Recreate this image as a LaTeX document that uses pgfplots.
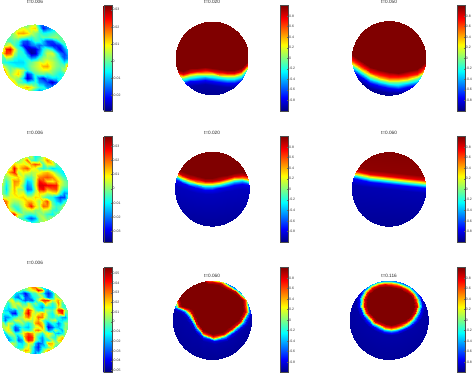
\documentclass[border=0pt]{standalone}
\usepackage{fontspec}
\setmainfont{Liberation Sans}
\usepackage{pgfplots}
\pgfplotsset{compat=1.18}
\newcommand\ttl{\fontsize{4.7}{5}\selectfont}
\newcommand\tcb{\fontsize{3.5}{4}\selectfont}
\pgfplotsset{
  disc/.style={hide axis, scale only axis, width=#1, height=#1, anchor=center,
    xmin=-1,xmax=1,ymin=-1,ymax=1, view={0}{90}, colormap/jet, colorbar},
  cb/.style n args={4}{colorbar style={anchor=north west,
    at={(parent axis.center)}, xshift=#1, yshift=#2, width=8pt, height=#3, ytick={#4},
    scaled y ticks=false, ytick pos=right, yticklabel pos=right, major tick length=1pt, tick style={black!60,line width=0.15pt},
    axis line style={black!70,line width=0.3pt},
    yticklabel style={font=\tcb, text=black!80, inner sep=0.6pt, /pgf/number format/fixed, /pgf/number format/precision=2, /pgf/number format/assume math mode=true}}},
  table/grid17/.style={x expr={-1+2*mod(\coordindex,17)/16}, y expr={1-2*floor(\coordindex/17)/16}, z expr={\thisrowno{0}/1000}, header=false, row sep=crcr},
  table/grid21/.style={x expr={-1+2*mod(\coordindex,21)/20}, y expr={1-2*floor(\coordindex/21)/20}, z expr={\thisrowno{0}/1000}, header=false, row sep=crcr},
  table/band/.style={header=false, row sep=crcr, x index=0, y index=1, z index=2},
}
\begin{document}
\begin{tikzpicture}[x=1pt,y=1pt]
\path[use as bounding box] (0,0) rectangle (474,376);
\node[font=\ttl,text=black!85] at (35,374) {t=0.006};
\node[font=\ttl,text=black!85] at (212,374) {t=0.020};
\node[font=\ttl,text=black!85] at (389,374) {t=0.050};
\node[font=\ttl,text=black!85] at (35,243) {t=0.006};
\node[font=\ttl,text=black!85] at (212,243) {t=0.020};
\node[font=\ttl,text=black!85] at (389,243) {t=0.060};
\node[font=\ttl,text=black!85] at (35,113) {t=0.006};
\node[font=\ttl,text=black!85] at (212,100.3) {t=0.060};
\node[font=\ttl,text=black!85] at (389,100.3) {t=0.116};

% row 1, panel 1
\begin{axis}[disc=66.6pt, at={(35pt,318.5pt)}, point meta min=-0.029, point meta max=0.0325,
  cb={60.2pt}{52pt}{105.2pt}{-0.02,-0.01,0,0.01,0.02,0.03}]
\clip (axis cs:0,0,0) circle[radius=33.3pt];
\addplot3[surf,shader=interp,mesh/cols=17] table[grid17] {
0\\0\\0\\0\\0\\0\\0\\5\\5\\-10\\-15\\-15\\0\\0\\0\\0\\0\\
0\\0\\0\\0\\5\\8\\5\\10\\12\\-5\\-20\\-15\\-10\\0\\0\\0\\0\\
0\\0\\0\\5\\14\\15\\12\\6\\2\\-2\\-5\\-4\\-2\\0\\0\\0\\0\\
0\\0\\0\\3\\6\\3\\0\\-3\\0\\-3\\0\\-1\\2\\3\\0\\0\\0\\
0\\0\\-2\\0\\-3\\-16\\-18\\-10\\-3\\-4\\-10\\-18\\-18\\-10\\-2\\0\\0\\
0\\5\\10\\-1\\-6\\-20\\-20\\-15\\-12\\-15\\-12\\-16\\-20\\-20\\-18\\-5\\-2\\
0\\24\\26\\10\\-2\\-8\\-24\\-26\\-24\\-16\\-5\\0\\-5\\-16\\-22\\-14\\-5\\
10\\22\\20\\5\\-3\\-4\\-15\\-27\\-25\\-12\\-2\\6\\7\\-3\\-14\\-18\\-8\\
2\\5\\3\\-3\\-6\\-5\\-5\\-12\\-10\\-2\\3\\5\\3\\0\\-6\\-16\\-12\\
-3\\-5\\-7\\-8\\-8\\-8\\-3\\0\\4\\8\\6\\10\\6\\2\\-2\\-8\\-2\\
10\\2\\-2\\-4\\-6\\-6\\-3\\2\\5\\8\\14\\15\\6\\2\\0\\0\\18\\
16\\8\\0\\5\\10\\4\\-5\\0\\3\\6\\8\\8\\3\\0\\-2\\5\\14\\
8\\12\\3\\8\\12\\0\\-20\\-14\\-2\\0\\0\\-3\\0\\-3\\-6\\-3\\3\\
0\\14\\8\\5\\3\\-8\\-24\\-18\\-4\\-16\\-20\\-12\\-8\\-8\\-5\\-2\\0\\
0\\0\\15\\10\\0\\-3\\-8\\-5\\-3\\-12\\-14\\-18\\-25\\-18\\-4\\0\\0\\
0\\0\\0\\8\\8\\10\\14\\10\\3\\-3\\-4\\-12\\-12\\-3\\0\\0\\0\\
0\\0\\0\\0\\0\\0\\6\\0\\-8\\-14\\-10\\-2\\0\\0\\0\\0\\0\\
};
\end{axis}

% row 2, panel 1
\begin{axis}[disc=66.6pt, at={(35pt,187pt)}, point meta min=-0.0376, point meta max=0.037,
  cb={60.2pt}{52.7pt}{105.7pt}{-0.03,-0.02,-0.01,0,0.01,0.02,0.03}]
\clip (axis cs:0,0,0) circle[radius=33.3pt];
\addplot3[surf,shader=interp,mesh/cols=17] table[grid17] {
0\\0\\0\\0\\0\\0\\0\\5\\-10\\-5\\5\\0\\0\\0\\0\\0\\0\\
0\\0\\0\\0\\0\\6\\20\\-3\\-8\\0\\6\\18\\6\\0\\0\\0\\0\\
0\\0\\0\\12\\8\\10\\5\\16\\22\\18\\-4\\8\\10\\-3\\0\\0\\0\\
0\\0\\6\\28\\10\\18\\22\\10\\8\\-2\\-8\\-4\\-12\\-10\\-8\\0\\0\\
0\\8\\18\\26\\4\\10\\8\\3\\5\\8\\12\\14\\8\\-2\\-8\\-12\\0\\
5\\0\\5\\8\\12\\6\\-4\\-4\\4\\18\\20\\22\\18\\10\\2\\-6\\-4\\
8\\-6\\2\\18\\16\\4\\-14\\-10\\5\\27\\23\\12\\10\\16\\8\\0\\-4\\
4\\-10\\2\\16\\12\\-2\\-18\\-14\\6\\30\\30\\28\\27\\26\\6\\0\\-3\\
0\\-12\\4\\14\\3\\0\\-20\\-18\\2\\25\\28\\16\\21\\23\\2\\-8\\-8\\
0\\-8\\6\\12\\6\\8\\-8\\-6\\6\\12\\10\\4\\8\\10\\-6\\-18\\-14\\
6\\4\\8\\8\\10\\12\\6\\5\\12\\10\\0\\-6\\-8\\-16\\-24\\-24\\-4\\
22\\18\\6\\2\\3\\8\\14\\14\\8\\2\\14\\22\\-4\\-12\\-18\\-8\\0\\
6\\20\\2\\-6\\-4\\6\\16\\26\\12\\4\\20\\18\\0\\-6\\-4\\4\\0\\
0\\6\\8\\0\\-8\\2\\4\\6\\0\\0\\6\\4\\-6\\-8\\-2\\4\\0\\
0\\8\\20\\26\\6\\0\\-4\\-6\\-4\\2\\0\\-6\\-10\\-2\\4\\0\\0\\
0\\0\\4\\10\\-3\\-6\\-16\\-22\\-16\\0\\4\\-2\\3\\6\\0\\0\\0\\
0\\0\\0\\0\\0\\0\\0\\-10\\-6\\0\\2\\6\\0\\0\\0\\0\\0\\
};
\end{axis}

% row 3, panel 1
\begin{axis}[disc=67pt, at={(35pt,56pt)}, point meta min=-0.052, point meta max=0.056,
  cb={60.2pt}{52.7pt}{105pt}{-0.05,-0.04,-0.03,-0.02,-0.01,0,0.01,0.02,0.03,0.04,0.05}]
\clip (axis cs:0,0,0) circle[radius=33.5pt];
\addplot3[surf,shader=interp,mesh/cols=21] table[grid21] {
0\\0\\0\\0\\0\\0\\0\\0\\10\\28\\30\\10\\-10\\-8\\0\\0\\0\\0\\0\\0\\0\\
0\\0\\0\\0\\0\\8\\-6\\-2\\6\\14\\20\\42\\30\\-15\\-22\\5\\0\\0\\0\\0\\0\\
0\\0\\0\\0\\-15\\-18\\-25\\-38\\-25\\-5\\-5\\8\\-5\\-25\\-35\\-20\\5\\0\\0\\0\\0\\
0\\0\\0\\-5\\-22\\-28\\-5\\-30\\-28\\-15\\-8\\-3\\10\\-10\\-28\\-18\\10\\3\\0\\0\\0\\
0\\0\\5\\15\\-8\\-5\\-20\\-30\\-25\\-28\\-10\\8\\35\\38\\36\\10\\15\\25\\5\\0\\0\\
0\\0\\-10\\10\\8\\12\\-5\\-8\\10\\-5\\3\\-8\\-12\\22\\8\\-8\\2\\28\\-5\\0\\0\\
0\\-5\\-15\\3\\10\\-3\\5\\8\\15\\6\\-10\\-12\\-22\\-8\\-10\\-12\\-5\\18\\-3\\-8\\0\\
0\\-15\\-18\\-20\\-25\\-5\\-4\\22\\42\\20\\0\\-8\\-10\\8\\3\\-5\\8\\38\\42\\5\\0\\
5\\-10\\-8\\-35\\-38\\-10\\3\\30\\45\\12\\8\\15\\25\\15\\-4\\-12\\6\\25\\40\\-5\\0\\
0\\-25\\-22\\-10\\-5\\3\\8\\22\\30\\10\\15\\32\\30\\10\\-3\\-10\\-5\\-6\\-20\\-22\\-4\\
0\\-28\\-10\\-3\\10\\12\\2\\10\\8\\5\\18\\25\\5\\-8\\-6\\5\\10\\-12\\-14\\-10\\0\\
3\\-8\\12\\6\\-8\\-3\\5\\-5\\-12\\0\\25\\32\\18\\-10\\-25\\-8\\-12\\-25\\-10\\5\\5\\
5\\10\\15\\-10\\-30\\-22\\-8\\-15\\-18\\-3\\10\\12\\25\\-5\\-38\\-30\\-15\\-18\\-8\\3\\0\\
0\\8\\18\\-5\\-32\\-28\\2\\-5\\-8\\3\\25\\30\\15\\0\\-25\\-15\\5\\-5\\-20\\8\\0\\
0\\-15\\5\\8\\-8\\-5\\10\\25\\35\\25\\10\\3\\-10\\10\\18\\5\\-15\\-20\\-12\\5\\0\\
0\\-10\\-20\\-5\\0\\-22\\-8\\30\\42\\38\\8\\-10\\-22\\-5\\8\\-5\\-10\\10\\22\\8\\0\\
0\\0\\-22\\-12\\-2\\-28\\-20\\20\\40\\35\\3\\-8\\-25\\-10\\-12\\8\\-3\\18\\25\\5\\0\\
0\\0\\5\\10\\3\\-10\\-15\\-3\\15\\8\\-18\\-32\\-25\\-8\\25\\22\\5\\3\\5\\0\\0\\
0\\0\\0\\12\\-3\\-12\\-10\\8\\15\\-5\\-25\\-35\\-12\\-12\\0\\15\\-5\\-10\\0\\0\\0\\
0\\0\\0\\0\\18\\3\\8\\25\\22\\-8\\-22\\-30\\-5\\10\\25\\18\\8\\0\\0\\0\\0\\
0\\0\\0\\0\\0\\0\\0\\10\\0\\-15\\-25\\-10\\8\\30\\20\\0\\0\\0\\0\\0\\0\\
};
\end{axis}

% row 1, panel 2
\begin{axis}[disc=73.4pt, at={(212pt,318pt)}, point meta min=-1, point meta max=1,
  cb={59.8pt}{52.5pt}{105.2pt}{-0.8,-0.6,-0.4,-0.2,0,0.2,0.4,0.6,0.8}]
\clip (axis cs:0,0,0) circle[radius=36.7pt];
\addplot3[surf,shader=interp,mesh/cols=9] table[band] {
-1 -1.2 -1\\-1 -.77 -.92\\-1 -.66 -.75\\-1 -.58 -.4\\-1 -.50 0\\-1 -.45 .4\\-1 -.39 .8\\-1 -.30 1\\-1 1.2 1\\
-.8 -1.2 -1\\-.8 -.82 -.92\\-.8 -.71 -.75\\-.8 -.63 -.4\\-.8 -.55 0\\-.8 -.50 .4\\-.8 -.44 .8\\-.8 -.35 1\\-.8 1.2 1\\
-.6 -1.2 -1\\-.6 -.75 -.92\\-.6 -.64 -.75\\-.6 -.56 -.4\\-.6 -.48 0\\-.6 -.43 .4\\-.6 -.37 .8\\-.6 -.28 1\\-.6 1.2 1\\
-.4 -1.2 -1\\-.4 -.73 -.92\\-.4 -.62 -.75\\-.4 -.54 -.4\\-.4 -.46 0\\-.4 -.41 .4\\-.4 -.35 .8\\-.4 -.26 1\\-.4 1.2 1\\
-.2 -1.2 -1\\-.2 -.72 -.92\\-.2 -.61 -.75\\-.2 -.53 -.4\\-.2 -.45 0\\-.2 -.40 .4\\-.2 -.34 .8\\-.2 -.25 1\\-.2 1.2 1\\
0 -1.2 -1\\0 -.74 -.92\\0 -.63 -.75\\0 -.55 -.4\\0 -.47 0\\0 -.42 .4\\0 -.36 .8\\0 -.27 1\\0 1.2 1\\
.2 -1.2 -1\\.2 -.77 -.92\\.2 -.66 -.75\\.2 -.58 -.4\\.2 -.50 0\\.2 -.45 .4\\.2 -.39 .8\\.2 -.30 1\\.2 1.2 1\\
.4 -1.2 -1\\.4 -.79 -.92\\.4 -.68 -.75\\.4 -.60 -.4\\.4 -.52 0\\.4 -.47 .4\\.4 -.41 .8\\.4 -.32 1\\.4 1.2 1\\
.6 -1.2 -1\\.6 -.79 -.92\\.6 -.68 -.75\\.6 -.60 -.4\\.6 -.52 0\\.6 -.47 .4\\.6 -.41 .8\\.6 -.32 1\\.6 1.2 1\\
.8 -1.2 -1\\.8 -.73 -.92\\.8 -.62 -.75\\.8 -.54 -.4\\.8 -.46 0\\.8 -.41 .4\\.8 -.35 .8\\.8 -.26 1\\.8 1.2 1\\
1 -1.2 -1\\1 -.52 -.92\\1 -.41 -.75\\1 -.33 -.4\\1 -.25 0\\1 -.20 .4\\1 -.14 .8\\1 -.05 1\\1 1.2 1\\
};
\end{axis}

% row 2, panel 2
\begin{axis}[disc=74.6pt, at={(212pt,187.2pt)}, point meta min=-1, point meta max=1,
  cb={59.8pt}{52.5pt}{105.7pt}{-0.8,-0.6,-0.4,-0.2,0,0.2,0.4,0.6,0.8}]
\clip (axis cs:0,0,0) circle[radius=37.3pt];
\addplot3[surf,shader=interp,mesh/cols=9] table[band] {
-1 -1.2 -.97\\-1 .11 -.88\\-1 .24 -.78\\-1 .31 -.4\\-1 .36 0\\-1 .41 .45\\-1 .47 .85\\-1 .56 1\\-1 1.2 1\\
-.8 -1.2 -.97\\-.8 .02 -.88\\-.8 .15 -.78\\-.8 .22 -.4\\-.8 .27 0\\-.8 .32 .45\\-.8 .38 .85\\-.8 .47 1\\-.8 1.2 1\\
-.6 -1.2 -.97\\-.6 -.06 -.88\\-.6 .07 -.78\\-.6 .14 -.4\\-.6 .19 0\\-.6 .24 .45\\-.6 .30 .85\\-.6 .39 1\\-.6 1.2 1\\
-.4 -1.2 -.97\\-.4 -.11 -.88\\-.4 .02 -.78\\-.4 .09 -.4\\-.4 .14 0\\-.4 .19 .45\\-.4 .25 .85\\-.4 .34 1\\-.4 1.2 1\\
-.2 -1.2 -.97\\-.2 -.15 -.88\\-.2 -.02 -.78\\-.2 .05 -.4\\-.2 .10 0\\-.2 .15 .45\\-.2 .21 .85\\-.2 .30 1\\-.2 1.2 1\\
0 -1.2 -.97\\0 -.15 -.88\\0 -.02 -.78\\0 .05 -.4\\0 .10 0\\0 .15 .45\\0 .21 .85\\0 .30 1\\0 1.2 1\\
.2 -1.2 -.97\\.2 -.12 -.88\\.2 .01 -.78\\.2 .08 -.4\\.2 .13 0\\.2 .18 .45\\.2 .24 .85\\.2 .33 1\\.2 1.2 1\\
.4 -1.2 -.97\\.4 -.07 -.88\\.4 .06 -.78\\.4 .13 -.4\\.4 .18 0\\.4 .23 .45\\.4 .29 .85\\.4 .38 1\\.4 1.2 1\\
.6 -1.2 -.97\\.6 -.02 -.88\\.6 .11 -.78\\.6 .18 -.4\\.6 .23 0\\.6 .28 .45\\.6 .34 .85\\.6 .43 1\\.6 1.2 1\\
.8 -1.2 -.97\\.8 0 -.88\\.8 .13 -.78\\.8 .20 -.4\\.8 .25 0\\.8 .30 .45\\.8 .36 .85\\.8 .45 1\\.8 1.2 1\\
1 -1.2 -.97\\1 -.04 -.88\\1 .09 -.78\\1 .16 -.4\\1 .21 0\\1 .26 .45\\1 .32 .85\\1 .41 1\\1 1.2 1\\
};
\end{axis}

% row 3, panel 2
\begin{axis}[disc=79pt, at={(212pt,56pt)}, point meta min=-1, point meta max=1,
  cb={59.8pt}{52.7pt}{105pt}{-0.8,-0.6,-0.4,-0.2,0,0.2,0.4,0.6,0.8}]
\clip (axis cs:0,0,0) circle[radius=39.5pt];
\addplot3[surf,shader=interp,mesh/cols=9] table[band, x expr={\thisrowno{1}*cos(\thisrowno{0})-0.22}, y expr={\thisrowno{1}*sin(\thisrowno{0})+0.51}, z expr={\thisrowno{2}}] {
0 0 1\\0 .97 1\\0 1.03 .85\\0 1.07 .45\\0 1.10 0\\0 1.13 -.45\\0 1.17 -.8\\0 1.24 -.92\\0 1.7 -.97\\
15 0 1\\15 .76 1\\15 .82 .85\\15 .86 .45\\15 .89 0\\15 .92 -.45\\15 .96 -.8\\15 1.03 -.92\\15 1.7 -.97\\
30 0 1\\30 .60 1\\30 .66 .85\\30 .70 .45\\30 .73 0\\30 .76 -.45\\30 .80 -.8\\30 .87 -.92\\30 1.7 -.97\\
45 0 1\\45 .53 1\\45 .59 .85\\45 .63 .45\\45 .66 0\\45 .69 -.45\\45 .73 -.8\\45 .80 -.92\\45 1.7 -.97\\
60 0 1\\60 .46 1\\60 .52 .85\\60 .56 .45\\60 .59 0\\60 .62 -.45\\60 .66 -.8\\60 .73 -.92\\60 1.7 -.97\\
75 0 1\\75 .42 1\\75 .48 .85\\75 .52 .45\\75 .55 0\\75 .58 -.45\\75 .62 -.8\\75 .69 -.92\\75 1.7 -.97\\
90 0 1\\90 .47 1\\90 .53 .85\\90 .57 .45\\90 .60 0\\90 .63 -.45\\90 .67 -.8\\90 .74 -.92\\90 1.7 -.97\\
105 0 1\\105 .52 1\\105 .58 .85\\105 .62 .45\\105 .65 0\\105 .68 -.45\\105 .72 -.8\\105 .79 -.92\\105 1.7 -.97\\
120 0 1\\120 .59 1\\120 .65 .85\\120 .69 .45\\120 .72 0\\120 .75 -.45\\120 .79 -.8\\120 .86 -.92\\120 1.7 -.97\\
135 0 1\\135 .67 1\\135 .73 .85\\135 .77 .45\\135 .80 0\\135 .83 -.45\\135 .87 -.8\\135 .94 -.92\\135 1.7 -.97\\
150 0 1\\150 .67 1\\150 .73 .85\\150 .77 .45\\150 .80 0\\150 .83 -.45\\150 .87 -.8\\150 .94 -.92\\150 1.7 -.97\\
165 0 1\\165 .63 1\\165 .69 .85\\165 .73 .45\\165 .76 0\\165 .79 -.45\\165 .83 -.8\\165 .90 -.92\\165 1.7 -.97\\
180 0 1\\180 .59 1\\180 .65 .85\\180 .69 .45\\180 .72 0\\180 .75 -.45\\180 .79 -.8\\180 .86 -.92\\180 1.7 -.97\\
195 0 1\\195 .57 1\\195 .63 .85\\195 .67 .45\\195 .70 0\\195 .73 -.45\\195 .77 -.8\\195 .84 -.92\\195 1.7 -.97\\
210 0 1\\210 .40 1\\210 .46 .85\\210 .50 .45\\210 .53 0\\210 .56 -.45\\210 .60 -.8\\210 .67 -.92\\210 1.7 -.97\\
225 0 1\\225 .38 1\\225 .44 .85\\225 .48 .45\\225 .51 0\\225 .54 -.45\\225 .58 -.8\\225 .65 -.92\\225 1.7 -.97\\
240 0 1\\240 .44 1\\240 .50 .85\\240 .54 .45\\240 .57 0\\240 .60 -.45\\240 .64 -.8\\240 .71 -.92\\240 1.7 -.97\\
255 0 1\\255 .58 1\\255 .64 .85\\255 .68 .45\\255 .71 0\\255 .74 -.45\\255 .78 -.8\\255 .85 -.92\\255 1.7 -.97\\
270 0 1\\270 .76 1\\270 .82 .85\\270 .86 .45\\270 .89 0\\270 .92 -.45\\270 .96 -.8\\270 1.03 -.92\\270 1.7 -.97\\
285 0 1\\285 .89 1\\285 .95 .85\\285 .99 .45\\285 1.02 0\\285 1.05 -.45\\285 1.09 -.8\\285 1.16 -.92\\285 1.7 -.97\\
300 0 1\\300 .93 1\\300 .99 .85\\300 1.03 .45\\300 1.06 0\\300 1.09 -.45\\300 1.13 -.8\\300 1.20 -.92\\300 1.7 -.97\\
315 0 1\\315 .95 1\\315 1.01 .85\\315 1.05 .45\\315 1.08 0\\315 1.11 -.45\\315 1.15 -.8\\315 1.22 -.92\\315 1.7 -.97\\
330 0 1\\330 1.01 1\\330 1.07 .85\\330 1.11 .45\\330 1.14 0\\330 1.17 -.45\\330 1.21 -.8\\330 1.28 -.92\\330 1.7 -.97\\
345 0 1\\345 1.04 1\\345 1.10 .85\\345 1.14 .45\\345 1.17 0\\345 1.20 -.45\\345 1.24 -.8\\345 1.31 -.92\\345 1.7 -.97\\
360 0 1\\360 .97 1\\360 1.03 .85\\360 1.07 .45\\360 1.10 0\\360 1.13 -.45\\360 1.17 -.8\\360 1.24 -.92\\360 1.7 -.97\\
};
\end{axis}

% row 1, panel 3
\begin{axis}[disc=74.4pt, at={(388.8pt,318pt)}, point meta min=-1, point meta max=1,
  cb={59.7pt}{52.5pt}{105.2pt}{-0.8,-0.6,-0.4,-0.2,0,0.2,0.4,0.6,0.8}]
\clip (axis cs:0,0,0) circle[radius=37.2pt];
\addplot3[surf,shader=interp,mesh/cols=9] table[band] {
-1 -1.2 -1\\-1 -.49 -.95\\-1 -.36 -.75\\-1 -.28 -.4\\-1 -.19 0\\-1 -.13 .35\\-1 -.06 .7\\-1 .07 1\\-1 1.2 1\\
-.75 -1.2 -1\\-.75 -.65 -.95\\-.75 -.52 -.75\\-.75 -.44 -.4\\-.75 -.35 0\\-.75 -.29 .35\\-.75 -.22 .7\\-.75 -.09 1\\-.75 1.2 1\\
-.5 -1.2 -1\\-.5 -.80 -.95\\-.5 -.67 -.75\\-.5 -.59 -.4\\-.5 -.50 0\\-.5 -.44 .35\\-.5 -.37 .7\\-.5 -.24 1\\-.5 1.2 1\\
-.25 -1.2 -1\\-.25 -.89 -.95\\-.25 -.76 -.75\\-.25 -.68 -.4\\-.25 -.59 0\\-.25 -.53 .35\\-.25 -.46 .7\\-.25 -.33 1\\-.25 1.2 1\\
0 -1.2 -1\\0 -.94 -.95\\0 -.81 -.75\\0 -.73 -.4\\0 -.64 0\\0 -.58 .35\\0 -.51 .7\\0 -.38 1\\0 1.2 1\\
.25 -1.2 -1\\.25 -.95 -.95\\.25 -.82 -.75\\.25 -.74 -.4\\.25 -.65 0\\.25 -.59 .35\\.25 -.52 .7\\.25 -.39 1\\.25 1.2 1\\
.5 -1.2 -1\\.5 -.92 -.95\\.5 -.79 -.75\\.5 -.71 -.4\\.5 -.62 0\\.5 -.56 .35\\.5 -.49 .7\\.5 -.36 1\\.5 1.2 1\\
.75 -1.2 -1\\.75 -.85 -.95\\.75 -.72 -.75\\.75 -.64 -.4\\.75 -.55 0\\.75 -.49 .35\\.75 -.42 .7\\.75 -.29 1\\.75 1.2 1\\
1 -1.2 -1\\1 -.67 -.95\\1 -.54 -.75\\1 -.46 -.4\\1 -.37 0\\1 -.31 .35\\1 -.24 .7\\1 -.11 1\\1 1.2 1\\
};
\end{axis}

% row 2, panel 3
\begin{axis}[disc=74.4pt, at={(388.8pt,187pt)}, point meta min=-1, point meta max=1,
  cb={59.7pt}{52.7pt}{105.7pt}{-0.8,-0.6,-0.4,-0.2,0,0.2,0.4,0.6,0.8}]
\clip (axis cs:0,0,0) circle[radius=37.2pt];
\addplot3[surf,shader=interp,mesh/cols=9] table[band] {
-1 -1.2 -.97\\-1 .14 -.9\\-1 .29 -.75\\-1 .34 -.4\\-1 .39 0\\-1 .44 .4\\-1 .50 .8\\-1 .61 .97\\-1 1.2 1\\
-.75 -1.2 -.97\\-.75 .09 -.9\\-.75 .24 -.75\\-.75 .29 -.4\\-.75 .34 0\\-.75 .39 .4\\-.75 .45 .8\\-.75 .56 .97\\-.75 1.2 1\\
-.5 -1.2 -.97\\-.5 .05 -.9\\-.5 .20 -.75\\-.5 .25 -.4\\-.5 .30 0\\-.5 .35 .4\\-.5 .41 .8\\-.5 .52 .97\\-.5 1.2 1\\
-.25 -1.2 -.97\\-.25 .02 -.9\\-.25 .17 -.75\\-.25 .22 -.4\\-.25 .27 0\\-.25 .32 .4\\-.25 .38 .8\\-.25 .49 .97\\-.25 1.2 1\\
0 -1.2 -.97\\0 -.01 -.9\\0 .14 -.75\\0 .19 -.4\\0 .24 0\\0 .29 .4\\0 .35 .8\\0 .46 .97\\0 1.2 1\\
.25 -1.2 -.97\\.25 -.03 -.9\\.25 .12 -.75\\.25 .17 -.4\\.25 .22 0\\.25 .27 .4\\.25 .33 .8\\.25 .44 .97\\.25 1.2 1\\
.5 -1.2 -.97\\.5 -.06 -.9\\.5 .09 -.75\\.5 .14 -.4\\.5 .19 0\\.5 .24 .4\\.5 .30 .8\\.5 .41 .97\\.5 1.2 1\\
.75 -1.2 -.97\\.75 -.09 -.9\\.75 .06 -.75\\.75 .11 -.4\\.75 .16 0\\.75 .21 .4\\.75 .27 .8\\.75 .38 .97\\.75 1.2 1\\
1 -1.2 -.97\\1 -.12 -.9\\1 .03 -.75\\1 .08 -.4\\1 .13 0\\1 .18 .4\\1 .24 .8\\1 .35 .97\\1 1.2 1\\
};
\end{axis}

% row 3, panel 3
\begin{axis}[disc=79pt, at={(388.8pt,56pt)}, point meta min=-1, point meta max=1,
  cb={59.7pt}{52.7pt}{105pt}{-0.8,-0.6,-0.4,-0.2,0,0.2,0.4,0.6,0.8}]
\clip (axis cs:0,0,0) circle[radius=39.5pt];
\addplot3[surf,shader=interp,mesh/cols=9] table[band, x expr={\thisrowno{1}*cos(\thisrowno{0})+0.046}, y expr={\thisrowno{1}*sin(\thisrowno{0})+0.35}, z expr={\thisrowno{2}}] {
0 0 1\\0 .60 1\\0 .66 .8\\0 .70 .4\\0 .73 0\\0 .76 -.4\\0 .80 -.75\\0 .87 -.92\\0 1.7 -.97\\
15 0 1\\15 .59 1\\15 .65 .8\\15 .69 .4\\15 .72 0\\15 .75 -.4\\15 .79 -.75\\15 .86 -.92\\15 1.7 -.97\\
30 0 1\\30 .56 1\\30 .62 .8\\30 .66 .4\\30 .69 0\\30 .72 -.4\\30 .76 -.75\\30 .83 -.92\\30 1.7 -.97\\
45 0 1\\45 .52 1\\45 .58 .8\\45 .62 .4\\45 .65 0\\45 .68 -.4\\45 .72 -.75\\45 .79 -.92\\45 1.7 -.97\\
60 0 1\\60 .49 1\\60 .55 .8\\60 .59 .4\\60 .62 0\\60 .65 -.4\\60 .69 -.75\\60 .76 -.92\\60 1.7 -.97\\
75 0 1\\75 .48 1\\75 .54 .8\\75 .58 .4\\75 .61 0\\75 .64 -.4\\75 .68 -.75\\75 .75 -.92\\75 1.7 -.97\\
90 0 1\\90 .48 1\\90 .54 .8\\90 .58 .4\\90 .61 0\\90 .64 -.4\\90 .68 -.75\\90 .75 -.92\\90 1.7 -.97\\
105 0 1\\105 .51 1\\105 .57 .8\\105 .61 .4\\105 .64 0\\105 .67 -.4\\105 .71 -.75\\105 .78 -.92\\105 1.7 -.97\\
120 0 1\\120 .55 1\\120 .61 .8\\120 .65 .4\\120 .68 0\\120 .71 -.4\\120 .75 -.75\\120 .82 -.92\\120 1.7 -.97\\
135 0 1\\135 .59 1\\135 .65 .8\\135 .69 .4\\135 .72 0\\135 .75 -.4\\135 .79 -.75\\135 .86 -.92\\135 1.7 -.97\\
150 0 1\\150 .63 1\\150 .69 .8\\150 .73 .4\\150 .76 0\\150 .79 -.4\\150 .83 -.75\\150 .90 -.92\\150 1.7 -.97\\
165 0 1\\165 .63 1\\165 .69 .8\\165 .73 .4\\165 .76 0\\165 .79 -.4\\165 .83 -.75\\165 .90 -.92\\165 1.7 -.97\\
180 0 1\\180 .61 1\\180 .67 .8\\180 .71 .4\\180 .74 0\\180 .77 -.4\\180 .81 -.75\\180 .88 -.92\\180 1.7 -.97\\
195 0 1\\195 .56 1\\195 .62 .8\\195 .66 .4\\195 .69 0\\195 .72 -.4\\195 .76 -.75\\195 .83 -.92\\195 1.7 -.97\\
210 0 1\\210 .51 1\\210 .57 .8\\210 .61 .4\\210 .64 0\\210 .67 -.4\\210 .71 -.75\\210 .78 -.92\\210 1.7 -.97\\
225 0 1\\225 .49 1\\225 .55 .8\\225 .59 .4\\225 .62 0\\225 .65 -.4\\225 .69 -.75\\225 .76 -.92\\225 1.7 -.97\\
240 0 1\\240 .46 1\\240 .52 .8\\240 .56 .4\\240 .59 0\\240 .62 -.4\\240 .66 -.75\\240 .73 -.92\\240 1.7 -.97\\
255 0 1\\255 .47 1\\255 .53 .8\\255 .57 .4\\255 .60 0\\255 .63 -.4\\255 .67 -.75\\255 .74 -.92\\255 1.7 -.97\\
270 0 1\\270 .47 1\\270 .53 .8\\270 .57 .4\\270 .60 0\\270 .63 -.4\\270 .67 -.75\\270 .74 -.92\\270 1.7 -.97\\
285 0 1\\285 .47 1\\285 .53 .8\\285 .57 .4\\285 .60 0\\285 .63 -.4\\285 .67 -.75\\285 .74 -.92\\285 1.7 -.97\\
300 0 1\\300 .47 1\\300 .53 .8\\300 .57 .4\\300 .60 0\\300 .63 -.4\\300 .67 -.75\\300 .74 -.92\\300 1.7 -.97\\
315 0 1\\315 .50 1\\315 .56 .8\\315 .60 .4\\315 .63 0\\315 .66 -.4\\315 .70 -.75\\315 .77 -.92\\315 1.7 -.97\\
330 0 1\\330 .53 1\\330 .59 .8\\330 .63 .4\\330 .66 0\\330 .69 -.4\\330 .73 -.75\\330 .80 -.92\\330 1.7 -.97\\
345 0 1\\345 .57 1\\345 .63 .8\\345 .67 .4\\345 .70 0\\345 .73 -.4\\345 .77 -.75\\345 .84 -.92\\345 1.7 -.97\\
360 0 1\\360 .60 1\\360 .66 .8\\360 .70 .4\\360 .73 0\\360 .76 -.4\\360 .80 -.75\\360 .87 -.92\\360 1.7 -.97\\
};
\end{axis}
\end{tikzpicture}
\end{document}
